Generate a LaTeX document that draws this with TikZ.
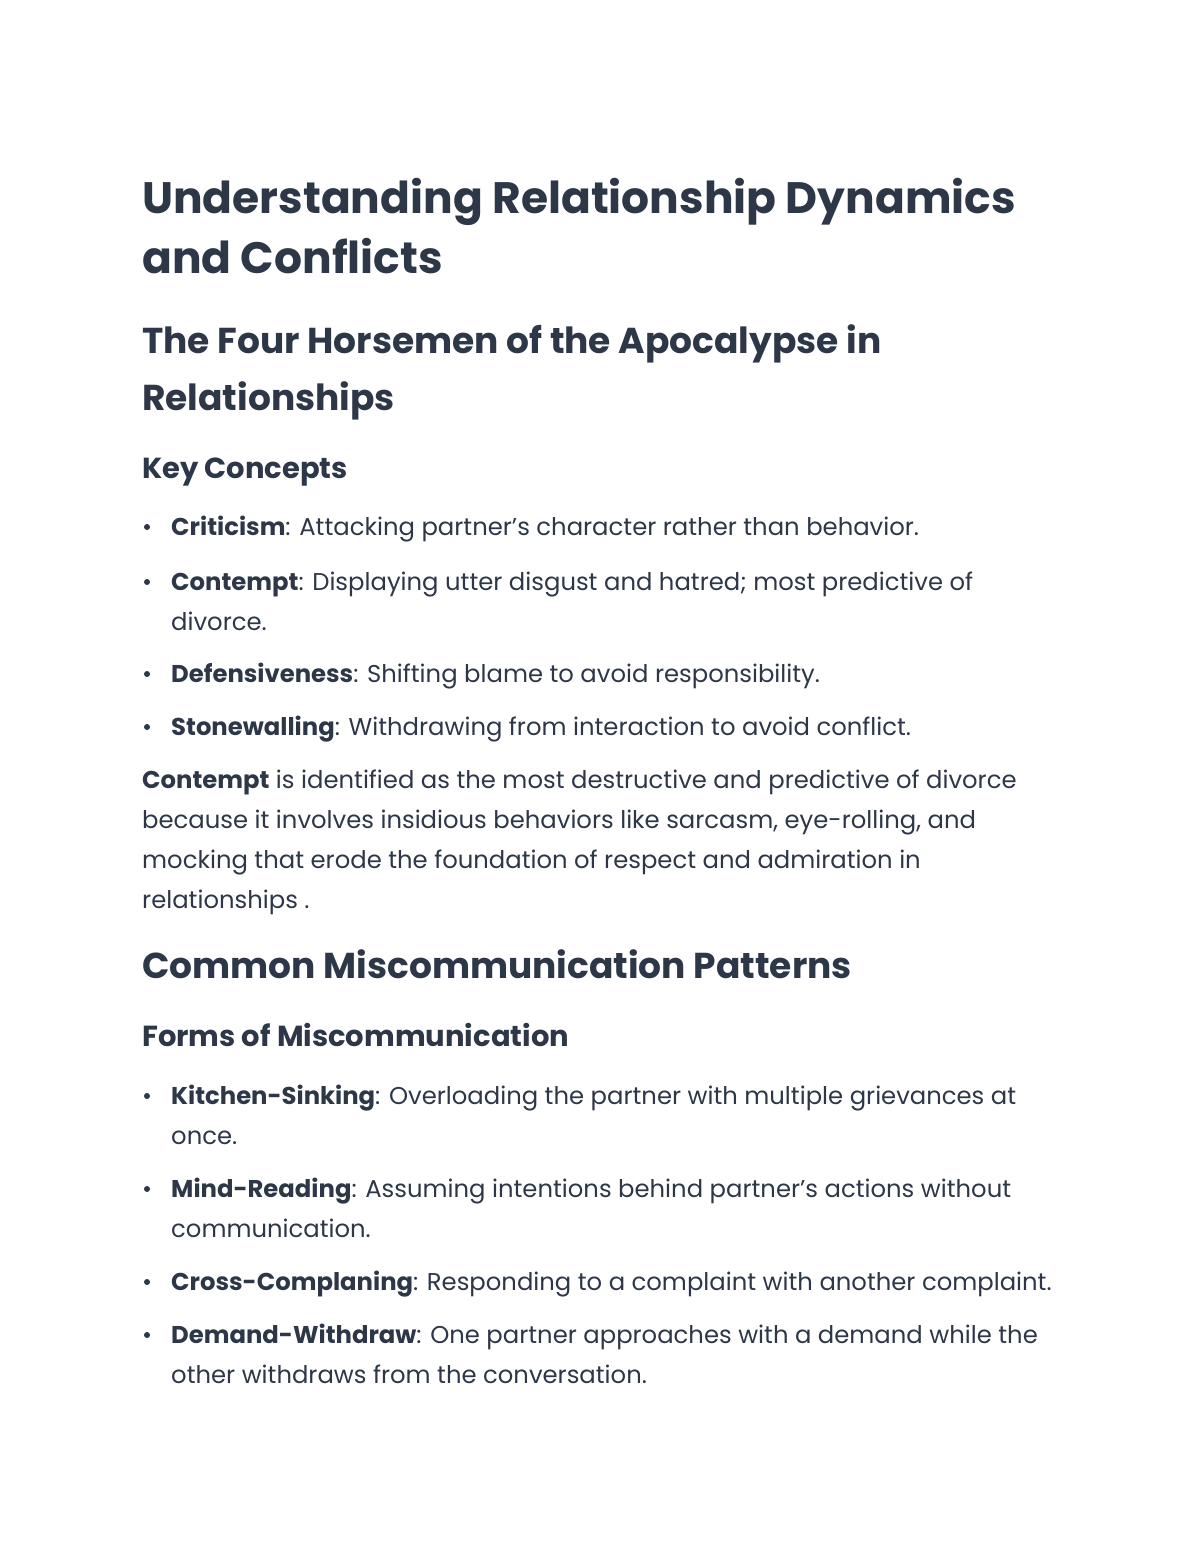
\documentclass[tikz,border=0pt]{standalone}
\usepackage{fontspec}
\setmainfont{Poppins}
\definecolor{ink}{HTML}{2D3748}
\begin{document}
\begin{tikzpicture}[x=1pt,y=-1pt,
 t/.style={anchor=base west,inner sep=0pt,text=ink,font=\fontsize{24.3}{28}\selectfont},
 h1/.style={t,font=\fontsize{44}{52}\selectfont\bfseries},
 h2/.style={t,font=\fontsize{36}{40}\selectfont\bfseries},
 h3/.style={t,font=\fontsize{29}{32}\selectfont\bfseries},
 dot/.style={circle,fill=ink,inner sep=0pt,minimum size=6pt}]
\useasboundingbox (0,0) rectangle (1200,1553);
\node[h1] (a1) at (142,213) {Understanding Relationship Dynamics};
\node[h1] (a2) at (142,273) {and Conflicts};
\node[h2] (b1) at (142,353) {The Four Horsemen of the Apocalypse in};
\node[h2] (b2) at (142,410) {Relationships};
\node[h3] (c1) at (142,478) {Key Concepts};
\foreach \y/\n in {527/d1,582/d2,674/d3,727/d4,1096/e1,1189/e2,1282/e3,1335/e4}
  \node[dot] (\n) at (147,\y) {};
\node[t] (l1) at (171,535) {\textbf{Criticism}: Attacking partner’s character rather than behavior.};
\node[t] (l2) at (171,590) {\textbf{Contempt}: Displaying utter disgust and hatred; most predictive of};
\node[t] (l2b) at (171,630) {divorce.};
\node[t] (l3) at (171,682) {\textbf{Defensiveness}: Shifting blame to avoid responsibility.};
\node[t] (l4) at (171,735) {\textbf{Stonewalling}: Withdrawing from interaction to avoid conflict.};
\node[t] (p1) at (142,788) {\textbf{Contempt} is identified as the most destructive and predictive of divorce};
\node[t] (p2) at (142,828) {because it involves insidious behaviors like sarcasm, eye-rolling, and};
\node[t] (p3) at (142,868) {mocking that erode the foundation of respect and admiration in};
\node[t] (p4) at (142,908) {relationships .};
\node[h2] (f1) at (142,978) {Common Miscommunication Patterns};
\node[h3] (g1) at (142,1046) {Forms of Miscommunication};
\node[t] (m1) at (171,1104) {\textbf{Kitchen-Sinking}: Overloading the partner with multiple grievances at};
\node[t] (m1b) at (171,1144) {once.};
\node[t] (m2) at (171,1197) {\textbf{Mind-Reading}: Assuming intentions behind partner’s actions without};
\node[t] (m2b) at (171,1237) {communication.};
\node[t] (m3) at (171,1290) {\textbf{Cross-Complaning}: Responding to a complaint with another complaint.};
\node[t] (m4) at (171,1343) {\textbf{Demand-Withdraw}: One partner approaches with a demand while the};
\node[t] (m4b) at (171,1383) {other withdraws from the conversation.};
\end{tikzpicture}
\end{document}
